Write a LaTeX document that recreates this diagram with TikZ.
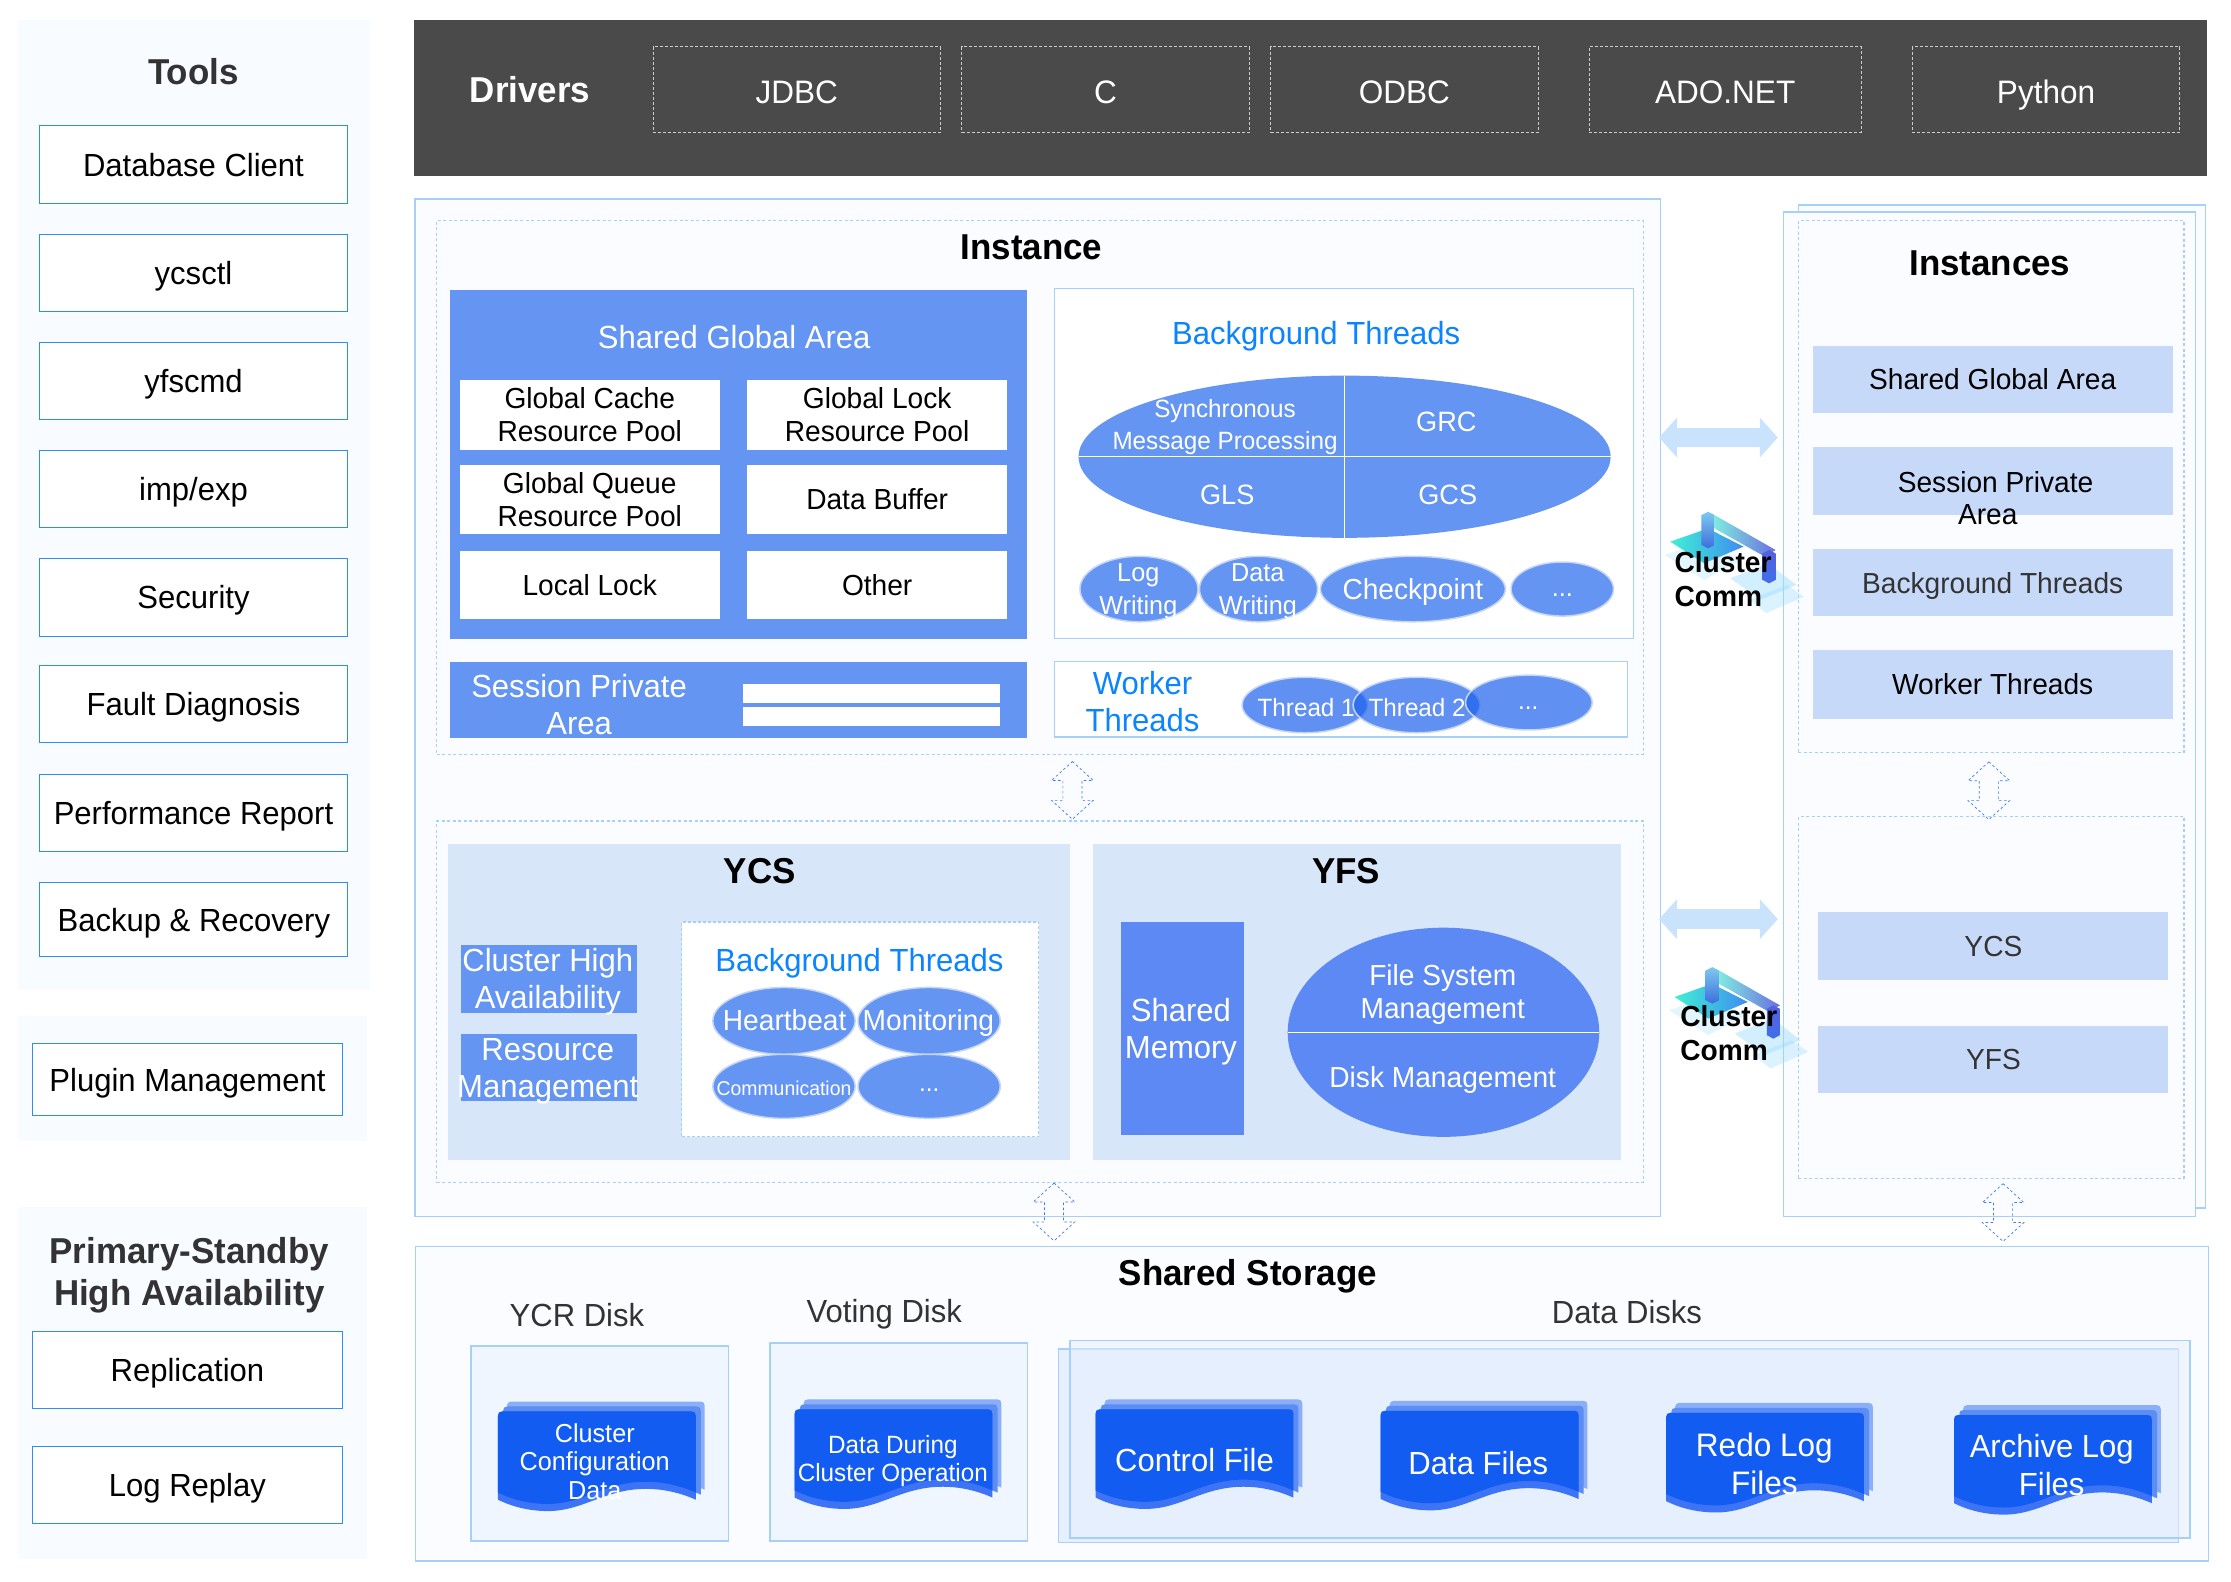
\documentclass[tikz,border=0pt]{standalone}
\usepackage{fontspec}
\setmainfont[FakeStretch=0.97]{Liberation Sans}
\usetikzlibrary{shapes.geometric,arrows.meta,shadings}
\newcommand\fz[2]{\fontsize{#1}{#2}\selectfont}
\definecolor{panelbd}{HTML}{A6D0FA}
\definecolor{panelfl}{HTML}{FBFCFF}
\definecolor{sidefl}{HTML}{F8FBFF}
\definecolor{toolbd}{HTML}{2F8FEE}
\definecolor{sgablue}{HTML}{6495F2}
\definecolor{rimblue}{HTML}{C5D5F7}
\definecolor{threadfl}{HTML}{1F62EE}
\definecolor{paleblue}{HTML}{C7D9F9}
\definecolor{yblue}{HTML}{D8E6FA}
\definecolor{headblue}{HTML}{0A84FF}
\definecolor{wideblue}{HTML}{C9E3FD}
\definecolor{docfront}{HTML}{135CF2}
\definecolor{docband}{HTML}{3D74F6}
\definecolor{docmid}{HTML}{5B8DF5}
\definecolor{docback}{HTML}{8AAEF7}
\definecolor{txtgray}{HTML}{333333}
\definecolor{diskfl}{HTML}{EFF6FF}
\definecolor{datafl}{HTML}{E6EFFD}
\definecolor{dasharrc}{HTML}{3B78F0}
\definecolor{icA}{HTML}{3FF0D5}
\definecolor{icB}{HTML}{3F8CF0}
\definecolor{icC}{HTML}{7FE9E0}
\definecolor{icD}{HTML}{6A6FE0}
\definecolor{icE}{HTML}{7FC8F0}
\definecolor{icF}{HTML}{3A6FDC}
\definecolor{icG}{HTML}{5560E0}
\definecolor{icH}{HTML}{3F6FE8}
\tikzset{
  txt/.style={inner sep=0,outer sep=0,align=center,font=\fz{30}{36},text=black},
  sidepanel/.style={fill=sidefl},
  toolbox/.style={draw=toolbd,fill=white,line width=1pt,font=\fz{32}{38},text height=25pt,text depth=2pt},
  panel/.style={draw=panelbd,fill=panelfl,line width=1.5pt},
  dashpanel/.style={draw=panelbd,line width=1.2pt,dash pattern=on 3pt off 2.5pt},
  drvbox/.style={draw=white!80!black,line width=1pt,dash pattern=on 3pt off 2pt,text=white,font=\fz{32.5}{38},text height=30pt,text depth=2pt},
  bluebox/.style={fill=sgablue},
  whitebox/.style={fill=white,font=\fz{29}{33}},
  palebox/.style={fill=paleblue,font=\fz{29}{34},text height=23pt,text depth=2pt},
  lightbox/.style={draw=panelbd,fill=white,line width=1.2pt},
  yfill/.style={fill=yblue},
  blob/.style={ellipse,fill=sgablue},
  rimblob/.style={ellipse,fill=sgablue,draw=rimblue,line width=1.5pt},
  thread/.style={ellipse,draw=rimblue,fill=threadfl,fill opacity=0.7,line width=1.5pt},
  head/.style={txt,font=\bfseries\fz{36}{42}},
  wtxt/.style={txt,text=white},
  btxt/.style={txt,text=headblue,font=\fz{32}{37}},
  gtxt/.style={txt,text=txtgray,font=\fz{32}{37}},
  widearrow/.style={draw=wideblue,line width=19.5pt,{Triangle[width=39pt,length=18pt]}-{Triangle[width=39pt,length=18pt]}},
  dasharrow/.style={draw=dasharrc,line width=0.7pt,dash pattern=on 2.5pt off 2.5pt},
}
\newcommand\bx[7]{\pgfmathsetmacro\bw{(#5-#3)*1.4228}\pgfmathsetmacro\bh{(#6-#4)*1.4228}%
  \node[inner sep=0,outer sep=0,align=center,minimum width=\bw pt,minimum height=\bh pt,#1] (#2) at ({(#3+#5)/2},{(#4+#6)/2}) {#7};}
\newcommand\tx[5]{\node[txt,#1] (#2) at (#3,#4) {#5};}
\newcommand\dasharr[2]{\draw[dasharrow,shift={(#1,#2)}] (0,-20.3) -- (14.6,-7) -- (6.7,-7) -- (6.7,7) -- (14.6,7) -- (0,20.3) -- (-14.6,7) -- (-6.7,7) -- (-6.7,-7) -- (-14.6,-7) -- cycle;}
\newcommand\docp[1]{(0,62-#1) -- (0,3) .. controls (0,1) and (1,0) .. (3,0) -- (136,0) .. controls (138,0) and (139,1) .. (139,3) -- (139,62-#1) .. controls (130,58-#1) and (118,54.4-#1) .. (104,54.4-#1) .. controls (75,54.4-#1) and (60,70-#1) .. (35,70-#1) .. controls (22,70-#1) and (10,67-#1) .. (0,62-#1) -- cycle}
\newcommand\docshape[2]{\begin{scope}[shift={(#1,#2)}]
  \fill[docback,shift={(6.3,-7)}] \docp{0};
  \fill[docmid,shift={(3.6,-3.5)}] \docp{0};
  \fill[docband] \docp{0};
  \fill[docfront] \docp{5};
\end{scope}}
\newcommand\icon[2]{\begin{scope}[shift={(#1,#2)}]
  \fill[cyan!30,opacity=.35] (1166.9,389) -- (1194.7,379.7) -- (1221.1,392.6) -- (1194.7,406.6) -- cycle;
  \fill[blue!35!cyan!40,opacity=.45] (1213.2,405.4) -- (1239.6,394.9) -- (1259.5,410.1) -- (1234.3,420.6) -- cycle;
  \fill[blue!35!cyan!40,opacity=.35] (1226.4,420.6) -- (1252.9,410.1) -- (1264.8,418.3) -- (1238.3,430) -- cycle;
  \path[left color=icA,right color=icB] (1170.9,379.7) -- (1197.3,370.4) -- (1222.4,383.2) -- (1194.7,394.9) -- cycle;
  \path[left color=icC,right color=icD] (1202,361) -- (1245,385.6) -- (1237,390) -- (1202,370.4) -- cycle;
  \path[top color=icE,bottom color=icF] (1192.8,361) -- (1197.5,358.7) -- (1202.1,361) -- (1202.1,382) -- (1197.5,384.4) -- (1192.8,382) -- cycle;
  \path[top color=icG,bottom color=icH] (1235.7,388) -- (1240.3,385.6) -- (1245,388) -- (1245,406.5) -- (1240.3,409) -- (1235.7,406.5) -- cycle;
\end{scope}}
\begin{document}
\begin{tikzpicture}[x=1.4228pt,y=-1.4228pt]
\useasboundingbox (0,0) rectangle (1568,1111.17);
% left column
\bx{sidepanel}{toolspanel}{13}{14}{260}{696}{}
\bx{sidepanel}{pluginpanel}{13}{714}{258}{802}{}
\bx{sidepanel}{hapanel}{13}{848}{258}{1096}{}
\tx{head,text=txtgray}{toolstitle}{136}{50}{Tools}
\bx{toolbox}{t1}{27.5}{88.5}{244.5}{143}{Database Client}
\bx{toolbox}{t2}{27.5}{164.5}{244.5}{219}{ycsctl}
\bx{toolbox}{t3}{27.5}{240.5}{244.5}{295}{yfscmd}
\bx{toolbox}{t4}{27.5}{316.5}{244.5}{371}{imp/exp}
\bx{toolbox}{t5}{27.5}{392.5}{244.5}{447}{Security}
\bx{toolbox}{t6}{27.5}{468}{244.5}{522}{Fault Diagnosis}
\bx{toolbox}{t7}{27.5}{544}{244.5}{598.5}{Performance Report}
\bx{toolbox}{t8}{28}{620.5}{244.5}{672}{Backup \& Recovery}
\bx{toolbox}{t9}{23}{733.5}{240.5}{784}{Plugin Management}
\tx{head,text=txtgray}{hatitle}{133}{896}{Primary-Standby\\High Availability}
\bx{toolbox}{t10}{23}{935.5}{240.5}{990}{Replication}
\bx{toolbox}{t11}{23}{1016.5}{240.5}{1071}{Log Replay}
% drivers
\bx{fill=black!71}{driverspanel}{291}{14}{1551}{124}{}
\tx{head,text=white}{driverstitle}{372.5}{63}{Drivers}
\bx{drvbox}{d1}{459}{33}{661}{93}{JDBC}
\bx{drvbox}{d2}{676}{33}{878}{93}{C}
\bx{drvbox}{d3}{893}{33}{1081}{93}{ODBC}
\bx{drvbox}{d4}{1117}{33}{1308}{93}{ADO.NET}
\bx{drvbox}{d5}{1344}{33}{1532}{93}{Python}
% instance
\bx{panel}{inst}{291.5}{140}{1167}{855}{}
\bx{dashpanel}{instdash}{307}{155}{1155}{530}{}
\tx{head}{insttitle}{725}{174}{Instance}
\bx{bluebox}{sga}{316}{204}{722}{449}{}
\tx{wtxt,font=\fz{32}{37}}{sgatitle}{516}{237}{Shared Global Area}
\bx{whitebox}{s1}{323}{267}{506}{316}{Global Cache\\Resource Pool}
\bx{whitebox}{s2}{525}{267}{708}{316}{Global Lock\\Resource Pool}
\bx{whitebox}{s3}{323}{327}{506}{375}{Global Queue\\Resource Pool}
\bx{whitebox}{s4}{525}{327}{708}{375}{Data Buffer}
\bx{whitebox}{s5}{323}{387}{506}{435}{Local Lock}
\bx{whitebox}{s6}{525}{387}{708}{435}{Other}
\bx{bluebox}{spa}{316}{465}{722}{519}{}
\tx{wtxt,font=\fz{32}{37}}{spatitle}{407}{495}{Session Private\\Area}
\bx{fill=white}{spab1}{522}{481}{703}{494}{}
\bx{fill=white}{spab2}{522}{497}{703}{510}{}
% background threads
\bx{lightbox}{bgbox}{741}{203}{1148}{449}{}
\tx{btxt}{bgtitle}{925}{236}{Background Threads}
\bx{blob}{bge}{758}{264}{1132}{378}{}
\draw[white,line width=1.5pt] (bge.west) -- (bge.east);
\draw[white,line width=1.5pt] (bge.north) -- (bge.south);
\tx{wtxt,font=\fz{25}{32}}{syn}{861}{300}{Synchronous\\Message Processing}
\tx{wtxt,font=\fz{28}{33}}{grc}{1016.5}{296.5}{GRC}
\tx{wtxt,font=\fz{28}{33}}{gls}{862.5}{347.5}{GLS}
\tx{wtxt,font=\fz{28}{33}}{gcs}{1017.5}{347.5}{GCS}
\bx{rimblob}{e1}{759}{391}{842}{437}{}
\bx{rimblob}{e2}{843}{391}{926}{437}{}
\bx{rimblob}{e3}{928}{391}{1058}{437}{}
\bx{rimblob}{e4}{1062}{395}{1134}{433}{}
\tx{wtxt,font=\fz{26}{33}}{e1t}{800}{416}{Log\\Writing}
\tx{wtxt,font=\fz{26}{33}}{e2t}{884}{416}{Data\\Writing}
\tx{wtxt,font=\fz{29}{36}}{e3t}{993}{416}{Checkpoint}
\tx{wtxt,font=\fz{26}{32}}{e4t}{1098}{418}{...}
% worker threads
\bx{lightbox}{wtbox}{741}{465}{1144}{518}{}
\tx{btxt}{wttitle}{803}{493}{Worker\\Threads}
\bx{thread}{th1}{873}{476}{961}{515}{}
\bx{thread}{th2}{951}{476}{1040}{515}{}
\bx{thread}{th3}{1030}{474.5}{1119}{513}{}
\tx{wtxt,font=\fz{25}{30}}{th1t}{918}{497}{Thread 1}
\tx{wtxt,font=\fz{25}{30}}{th2t}{996}{497}{Thread 2}
\tx{wtxt,font=\fz{25}{30}}{th3t}{1074}{498}{...}
\dasharr{753.7}{555.5}
% ycs/yfs
\bx{dashpanel}{ydash}{307}{577}{1155}{831}{}
\bx{yfill}{ycs}{315}{593}{752}{815}{}
\bx{yfill}{yfs}{768}{593}{1139}{815}{}
\tx{head}{ycstitle}{534}{612}{YCS}
\tx{head}{yfstitle}{946}{612}{YFS}
\bx{bluebox}{cha}{324}{664}{448}{712}{}
\tx{wtxt,font=\fz{32}{37}}{chat}{385}{690}{Cluster High\\Availability}
\bx{bluebox}{rm}{324}{727}{448}{774}{}
\tx{wtxt,font=\fz{32}{37}}{rmt}{385}{753}{Resource\\Management}
\bx{lightbox,draw=panelbd,dash pattern=on 3pt off 2pt}{ycsbg}{479}{648}{730}{799}{}
\tx{btxt}{ycsbgt}{604}{677}{Background Threads}
\bx{rimblob}{h1}{501}{694}{601}{741}{}
\bx{rimblob}{h2}{603}{694}{703}{741}{}
\bx{rimblob}{h3}{501}{741}{601}{786}{}
\bx{rimblob}{h4}{603}{741}{703}{786}{}
\tx{wtxt,font=\fz{29}{33}}{h1t}{551.5}{717}{Heartbeat}
\tx{wtxt,font=\fz{29}{33}}{h2t}{652.5}{719}{Monitoring}
\tx{wtxt,font=\fz{20}{24}}{h3t}{551}{765}{Communication}
\tx{wtxt,font=\fz{25}{30}}{h4t}{653}{766}{...}
\bx{fill=sgablue!92!blue}{sm}{788}{648}{874}{798}{}
\tx{wtxt,font=\fz{32}{37}}{smt}{830}{725}{Shared\\Memory}
\bx{blob,fill=sgablue!92!blue}{fse}{905}{652}{1124}{799}{}
\draw[white,line width=1.5pt] (fse.west) -- (fse.east);
\tx{wtxt,font=\fz{29}{33}}{fset}{1014}{699}{File System\\Management}
\tx{wtxt,font=\fz{29}{33}}{dmt}{1014}{759}{Disk Management}
\dasharr{740.8}{851.8}
% instances
\bx{panel}{instsb}{1264}{144}{1550}{849}{}
\bx{panel}{insts}{1253.5}{149}{1543}{855}{}
\bx{dashpanel}{instsd}{1264}{155}{1535}{529}{}
\tx{head}{instst}{1398.5}{185}{Instances}
\bx{palebox}{r1}{1274}{243}{1527}{290}{Shared Global Area}
\bx{palebox}{r2}{1274}{314}{1527}{362}{}
\tx{font=\fz{29}{34}}{r2a}{1402.5}{339}{Session Private}
\tx{font=\fz{29}{34}}{r2b}{1397}{362}{Area}
\bx{palebox,text=txtgray}{r3}{1274}{386}{1527}{433}{Background Threads}
\bx{palebox}{r4}{1274}{457}{1527}{505}{Worker Threads}
\dasharr{1397.8}{555.7}
\bx{dashpanel}{rydash}{1264}{574}{1535}{828}{}
\bx{palebox,text=txtgray}{r5}{1278}{641}{1524}{689}{YCS}
\bx{palebox,text=txtgray}{r6}{1278}{721}{1524}{768}{YFS}
\dasharr{1407.8}{852.2}
% wide arrows
\coordinate (w1a) at (1166,307.5);
\coordinate (w1b) at (1249.5,307.5);
\coordinate (w2a) at (1166,646);
\coordinate (w2b) at (1249.5,646);
\draw[widearrow] (w1a) -- (w1b);
\draw[widearrow] (w2a) -- (w2b);
\icon{3}{1}
\icon{6}{321}
\tx{txt,align=left,font=\bfseries\fz{29}{34}}{cc1}{1211}{407}{Cluster\\Comm}
\tx{txt,align=left,font=\bfseries\fz{29}{34}}{cc2}{1215}{726}{Cluster\\Comm}
% storage
\bx{panel}{stor}{292}{876}{1552}{1097}{}
\tx{head}{stort}{877}{897}{Shared Storage}
\tx{gtxt}{ycrt}{405.5}{924}{YCR Disk}
\tx{gtxt}{vott}{621.5}{924}{Voting Disk}
\tx{gtxt}{datt}{1143.5}{922}{Data Disks}
\bx{panel,fill=diskfl}{ycrb}{331}{946}{512}{1083}{}
\bx{panel,fill=diskfl}{votb}{541}{944}{722}{1083}{}
\bx{panel,fill=datafl}{dat1}{744}{948}{1531}{1084}{}
\bx{panel,fill=datafl,fill opacity=.5}{dat2}{752}{942}{1539}{1081}{}
\docshape{350}{992}
\docshape{558.5}{990.5}
\docshape{770}{990.5}
\docshape{970.4}{991.5}
\docshape{1171}{993}
\docshape{1373.4}{994.5}
\tx{wtxt,font=\fz{26}{28.5}}{dt1}{418}{1027}{Cluster\\Configuration\\Data}
\tx{wtxt,font=\fz{25}{28.5}}{dt2}{627.5}{1027}{Data During\\Cluster Operation}
\tx{wtxt,font=\fz{32}{38}}{dt3}{839.5}{1026}{Control File}
\tx{wtxt,font=\fz{32}{38}}{dt4}{1039}{1028}{Data Files}
\tx{wtxt,font=\fz{32.5}{38}}{dt5}{1240}{1029}{Redo Log\\Files}
\tx{wtxt,font=\fz{32}{38}}{dt6}{1442}{1030}{Archive Log\\Files}
\end{tikzpicture}
\end{document}
